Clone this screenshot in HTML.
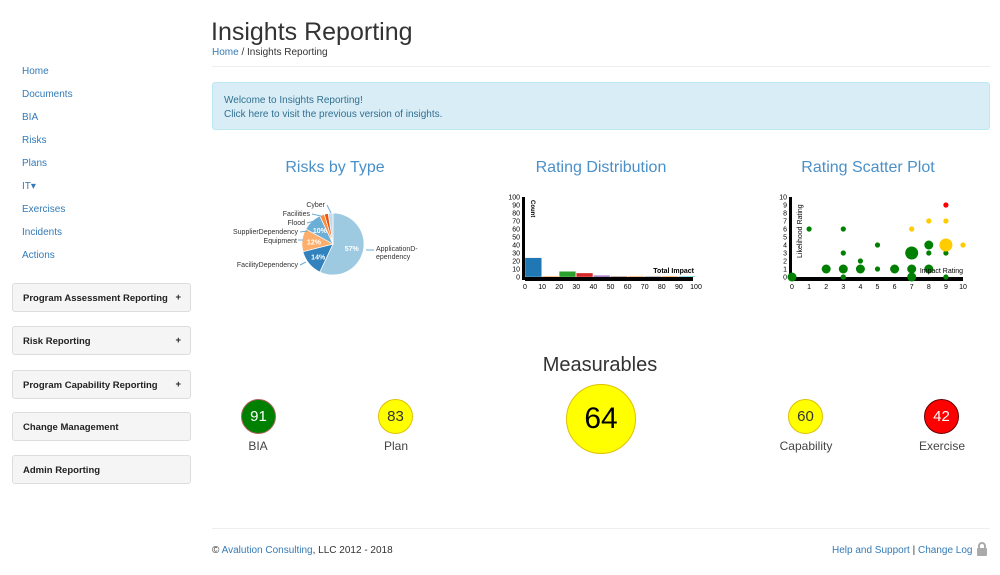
<!DOCTYPE html>
<html><head><meta charset="utf-8">
<style>
body{margin:0;width:1000px;height:575px;position:relative;font-family:"Liberation Sans",sans-serif;background:#fff;color:#333;overflow:hidden}
a{color:#337ab7;text-decoration:none}
.nav{position:absolute;left:22px;font-size:10px;color:#337ab7}
.panel{position:absolute;left:12px;width:179px;height:29px;background:#f5f5f5;border:1px solid #ddd;border-radius:3px;font-size:9.5px;font-weight:bold;color:#222;box-sizing:border-box;padding:9px 0 0 10px}
.panel span{position:absolute;right:9px;top:8px}
.ttl{position:absolute;font-size:16px;color:#4a90c8;text-align:center;width:200px}
.circ{position:absolute;border-radius:50%;text-align:center;box-sizing:border-box}
.lab{position:absolute;font-size:12px;color:#444;text-align:center;width:100px}
svg text{font-family:"Liberation Sans",sans-serif}
</style></head><body>
<a class="nav" style="top:66px">Home</a>
<a class="nav" style="top:89px">Documents</a>
<a class="nav" style="top:112px">BIA</a>
<a class="nav" style="top:135px">Risks</a>
<a class="nav" style="top:158px">Plans</a>
<a class="nav" style="top:181px">IT▾</a>
<a class="nav" style="top:204px">Exercises</a>
<a class="nav" style="top:227px">Incidents</a>
<a class="nav" style="top:250px">Actions</a>
<div class="panel" style="top:283px">Program Assessment Reporting<span>+</span></div>
<div class="panel" style="top:326px">Risk Reporting<span>+</span></div>
<div class="panel" style="top:370px">Program Capability Reporting<span>+</span></div>
<div class="panel" style="top:412px">Change Management</div>
<div class="panel" style="top:455px">Admin Reporting</div>

<div style="position:absolute;left:211px;top:18px;font-size:25px;color:#333">Insights Reporting</div>
<div style="position:absolute;left:212px;top:47px;font-size:10px"><a>Home</a> / Insights Reporting</div>
<div style="position:absolute;left:212px;top:66px;width:778px;border-top:1px solid #eee"></div>
<div style="position:absolute;left:212px;top:82px;width:778px;height:48px;background:#d9edf7;border:1px solid #bce8f1;border-radius:3px;box-sizing:border-box;padding:11px 11px;font-size:10px;color:#31708f;line-height:14px">Welcome to Insights Reporting!<br><a style="color:#31708f">Click here to visit the previous version of insights.</a></div>

<div class="ttl" style="left:235px;top:159px">Risks by Type</div>
<div class="ttl" style="left:501px;top:159px">Rating Distribution</div>
<div class="ttl" style="left:768px;top:159px">Rating Scatter Plot</div>

<svg id="pie" style="position:absolute;left:0;top:0" width="1000" height="300"></svg>
<svg id="hist" style="position:absolute;left:0;top:0" width="1000" height="300"></svg>
<svg id="sc" style="position:absolute;left:0;top:0" width="1000" height="300"></svg>

<div style="position:absolute;left:500px;top:354px;width:200px;text-align:center;font-size:20px;color:#333">Measurables</div>
<div class="circ" style="left:241px;top:399px;width:35px;height:35px;background:#008000;border:1px solid #b06060;color:#fff;font-size:15px;line-height:33px">91</div>
<div class="lab" style="left:208px;top:439px">BIA</div>
<div class="circ" style="left:378px;top:399px;width:35px;height:35px;background:#ffff00;border:1px solid #e0c000;color:#333;font-size:15px;line-height:33px">83</div>
<div class="lab" style="left:346px;top:439px">Plan</div>
<div class="circ" style="left:566px;top:384px;width:70px;height:70px;background:#ffff00;border:1px solid #e0c000;color:#000;font-size:30px;line-height:68px">64</div>
<div class="circ" style="left:788px;top:399px;width:35px;height:35px;background:#ffff00;border:1px solid #e0c000;color:#333;font-size:15px;line-height:33px">60</div>
<div class="lab" style="left:756px;top:439px">Capability</div>
<div class="circ" style="left:924px;top:399px;width:35px;height:35px;background:#ff0000;border:1px solid #600;color:#fff;font-size:15px;line-height:33px">42</div>
<div class="lab" style="left:892px;top:439px">Exercise</div>

<div style="position:absolute;left:212px;top:528px;width:778px;border-top:1px solid #eee"></div>
<div style="position:absolute;left:212px;top:545px;font-size:10px">© <a>Avalution Consulting</a>, LLC 2012 - 2018</div>
<div style="position:absolute;left:832px;top:545px;font-size:10px;color:#333"><a>Help and Support</a> | <a>Change Log</a></div>
<svg style="position:absolute;left:976px;top:542px" width="12" height="14"><path d="M3 6V4a3 3 0 0 1 6 0v2" stroke="#aaa" stroke-width="2" fill="none"/><rect x="1" y="6" width="10" height="8" rx="1" fill="#aaa"/></svg>

<script>
const NS="http://www.w3.org/2000/svg";
function mk(svg,tag,attrs,txt){const e=document.createElementNS(NS,tag);for(const k in attrs)e.setAttribute(k,attrs[k]);if(txt!==undefined)e.textContent=txt;svg.appendChild(e);return e;}
// Pie data
const pieLabels=["ApplicationDependency","FacilityDependency","Equipment","SupplierDependency","Flood","Facilities","Cyber"];
const pieValues=[57,14,12,10,2.5,2,2.5];
const pieColors=["#9ecae1","#3182bd","#fdae6b","#6baed6","#fd8d3c","#e6550d","#c6dbef"];
// Histogram data
const histBins=[0,10,20,30,40,50,60,70,80,90];
const histCounts=[24,1,7,5,2,1,1,0.5,1,0];
const histTicks=[0,10,20,30,40,50,60,70,80,90,100];
// Scatter data
const scX=[0,1,2,3,3,3,3,4,4,5,5,6,7,7,7,8,8,8,9,9,7,8,9,9,10,9];
const scY=[0,6,1,6,3,1,0,2,1,4,1,1,3,1,0,4,3,1,3,0,6,7,7,4,4,9];
const scSize=[2,1,2,1,1,2,1,1,2,1,1,2,3,2,2,2,1,2,1,1,1,1,1,3,1,1];
const scColor=["g","g","g","g","g","g","g","g","g","g","g","g","g","g","g","g","g","g","g","g","y","y","y","y","y","r"];

(function(){
 const s=document.getElementById('pie');const cx=333,cy=244,r=31;
 const tot=pieValues.reduce((a,b)=>a+b,0);let a0=0;
 pieValues.forEach((v,i)=>{const a1=a0+v/tot*2*Math.PI;
  const p=(a)=>[cx+r*Math.sin(a),cy-r*Math.cos(a)];
  const [x0,y0]=p(a0),[x1,y1]=p(a1);
  const el=mk(s,'path',{d:`M${cx},${cy}L${x0},${y0}A${r},${r} 0 ${a1-a0>Math.PI?1:0} 1 ${x1},${y1}Z`,fill:pieColors[i],stroke:'#fff','stroke-width':0.7});
  
  
  const am=(a0+a1)/2;
  if(v>=10){mk(s,'text',{x:cx+r*0.62*Math.sin(am),y:cy-r*0.62*Math.cos(am)+3,'font-size':7,'font-weight':'bold',fill:'#fff','text-anchor':'middle'},Math.round(v)+'%');}
  a0=a1;});
 const L=[["ApplicationD-",376,251],["ependency",376,259],["FacilityDependency",298,267],["Equipment",297,243],["SupplierDependency",298,234],["Flood",305,225],["Facilities",310,216],["Cyber",325,207]];
 L.forEach((l,i)=>{mk(s,'text',{x:l[1],y:l[2],'font-size':7,fill:'#333','text-anchor':i<2?'start':'end'},l[0]);});
 [[366,250,374,250],[300,265,306,262],[298,240,303,240],[300,232,308,231],[307,223,318,220],[312,214,321,216],[327,205,331,213]].forEach(q=>mk(s,'line',{x1:q[0],y1:q[1],x2:q[2],y2:q[3],stroke:'#6baed6','stroke-width':1}));
})();

(function(){
 const s=document.getElementById('hist');const x0=525,x1=696,y0=277,y1=197;
 const X=v=>x0+(v-0)/100*(x1-x0),Y=v=>y0-v/100*(y0-y1);
 const cols=["#1f77b4","#ff7f0e","#2ca02c","#d62728","#9467bd","#8c564b","#ff7f0e","#7f7f7f","#ff7f0e","#17becf"];
 histBins.forEach((b,i)=>{const h=Math.max(Y(0)-Y(histCounts[i]),0.8);
  const el=mk(s,'rect',{x:X(b),y:Y(0)-h,width:X(b+10)-X(b)-0.5,height:h,fill:cols[i],stroke:'#fff','stroke-width':0.3});
  
  });
 mk(s,'rect',{x:x0-3,y:y1,width:3,height:y0-y1+3,fill:'#000'});
 mk(s,'rect',{x:x0,y:y0,width:x1-x0-3,height:4,fill:'#000'});
 histTicks.forEach(t=>{mk(s,'text',{x:x0-5,y:Y(t)+2.5,'font-size':7,'text-anchor':'end',fill:'#000'},t);
  mk(s,'text',{x:X(t),y:289,'font-size':7,'text-anchor':'middle',fill:'#000'},t);});
 mk(s,'text',{x:x1-2,y:273,'font-size':7,'font-weight':'bold','text-anchor':'end',fill:'#000'},'Total Impact');
 mk(s,'text',{x:0,y:0,'font-size':6,'font-weight':'bold',transform:`translate(531,200) rotate(90)`,fill:'#000'},'Count');
})();

(function(){
 const s=document.getElementById('sc');const x0=792,x1=963,y0=277,y1=197;
 const X=v=>x0+v/10*(x1-x0),Y=v=>y0-v/10*(y0-y1);
 const cm={g:"#008000",y:"#ffcc00",r:"#ff0000"};const rs=[0,2.6,4.5,6.5];
 mk(s,'rect',{x:x0-3,y:y1,width:3,height:y0-y1+3,fill:'#000'});
 mk(s,'rect',{x:x0,y:y0,width:x1-x0,height:4,fill:'#000'});
 scX.forEach((x,i)=>{const el=mk(s,'circle',{cx:X(x),cy:Y(scY[i]),r:rs[scSize[i]],fill:cm[scColor[i]]});
  
  });
 for(let t=0;t<=10;t++){mk(s,'text',{x:x0-5,y:Y(t)+2.5,'font-size':7,'text-anchor':'end',fill:'#000'},t);
  mk(s,'text',{x:X(t),y:289,'font-size':7,'text-anchor':'middle',fill:'#000'},t);}
 mk(s,'text',{x:x1,y:273,'font-size':7,'text-anchor':'end',fill:'#000'},'Impact Rating');
 mk(s,'text',{x:0,y:0,'font-size':7,transform:`translate(802,258) rotate(-90)`,fill:'#000'},'Likelihood Rating');
})();
</script>
</body></html>
